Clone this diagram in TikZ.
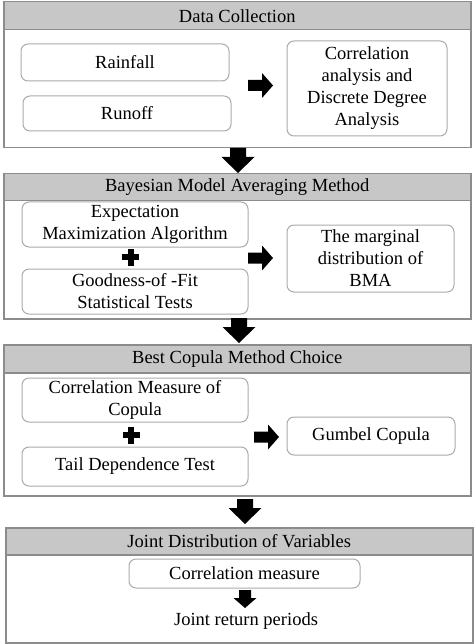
\documentclass[tikz,border=0pt]{standalone}
\usepackage{fontspec}
\setmainfont{Liberation Serif}
\begin{document}
\begin{tikzpicture}[x=1pt,y=-1pt,
  frame/.style={draw=black!45,line width=1.5pt,fill=white,anchor=north west,inner sep=0pt},
  hdr/.style={draw=black!45,line width=1.5pt,fill=black!22,anchor=north west,inner sep=0pt,font=\fontsize{18.5}{22}\selectfont},
  ibox/.style={draw=black!33,line width=1pt,rounded corners=7pt,fill=white,align=center,inner sep=0pt,font=\fontsize{18.5}{22}\selectfont},
  plain/.style={align=center,inner sep=0pt,font=\fontsize{18.5}{22}\selectfont},
  downarrow/.pic={\fill (-8,0) -- (8,0) -- (8,9) -- (16.5,9) -- (0,25) -- (-16.5,9) -- (-8,9) -- cycle;},
  smalldown/.pic={\fill (-6,0) -- (6,0) -- (6,8) -- (11.5,8) -- (0,18) -- (-11.5,8) -- (-6,8) -- cycle;},
  rightarrow/.pic={\fill (0,-5.5) -- (14,-5.5) -- (14,-12.5) -- (25,0) -- (14,12.5) -- (14,5.5) -- (0,5.5) -- cycle;},
  plussign/.pic={\fill (-3,-8.5) rectangle (3,8.5); \fill (-8.5,-3) rectangle (8.5,3);}
]
\useasboundingbox (0,0) rectangle (474,644);

% ---- Section 1
\node[frame,minimum width=467,minimum height=146] (f1) at (3,1) {};
\node[hdr,minimum width=467,minimum height=28] (h1) at (3,1) {Data Collection};
\node[ibox,minimum width=208,minimum height=37] (rain) at (125,62.5) {Rainfall};
\node[ibox,minimum width=208,minimum height=35] (runoff) at (127,113.5) {Runoff};
\node[ibox,minimum width=160,minimum height=95] (corr) at (367,88.5) {Correlation\\analysis and\\Discrete Degree\\Analysis};
\pic at (248,85.5) {rightarrow};

\pic at (238,148) {downarrow};

% ---- Section 2
\node[frame,minimum width=467,minimum height=145] (f2) at (3,173) {};
\node[hdr,minimum width=467,minimum height=27] (h2) at (3,173) {Bayesian Model Averaging Method};
\node[ibox,minimum width=226,minimum height=45] (em) at (135,224.5) {Expectation\\Maximization Algorithm};
\pic at (130.5,257) {plussign};
\node[ibox,minimum width=226,minimum height=45] (gof) at (135,291.5) {Goodness-of -Fit\\Statistical Tests};
\node[ibox,minimum width=167,minimum height=67] (marg) at (370.5,258.5) {The marginal\\distribution of\\BMA};
\pic at (248,258) {rightarrow};

\pic at (239,318) {downarrow};

% ---- Section 3
\node[frame,minimum width=467,minimum height=151] (f3) at (3,344) {};
\node[hdr,minimum width=467,minimum height=28] (h3) at (3,344) {Best Copula Method Choice};
\node[ibox,minimum width=226,minimum height=44] (cmc) at (135,400) {Correlation Measure of\\Copula};
\pic at (131,435) {plussign};
\node[ibox,minimum width=226,minimum height=39] (tail) at (135,466.5) {Tail Dependence Test};
\node[ibox,minimum width=168,minimum height=38] (gumbel) at (371,436) {Gumbel Copula};
\pic at (254,437) {rightarrow};

\pic at (245,499) {downarrow};

% ---- Section 4
\node[frame,minimum width=467,minimum height=115] (f4) at (5,527) {};
\node[hdr,minimum width=467,minimum height=27] (h4) at (5,527) {Joint Distribution of Variables};
\node[ibox,minimum width=231,minimum height=29] (cm) at (244.5,573.5) {Correlation measure};
\pic at (245,590) {smalldown};
\node[plain] (jrp) at (246,621) {Joint return periods};
\end{tikzpicture}
\end{document}
